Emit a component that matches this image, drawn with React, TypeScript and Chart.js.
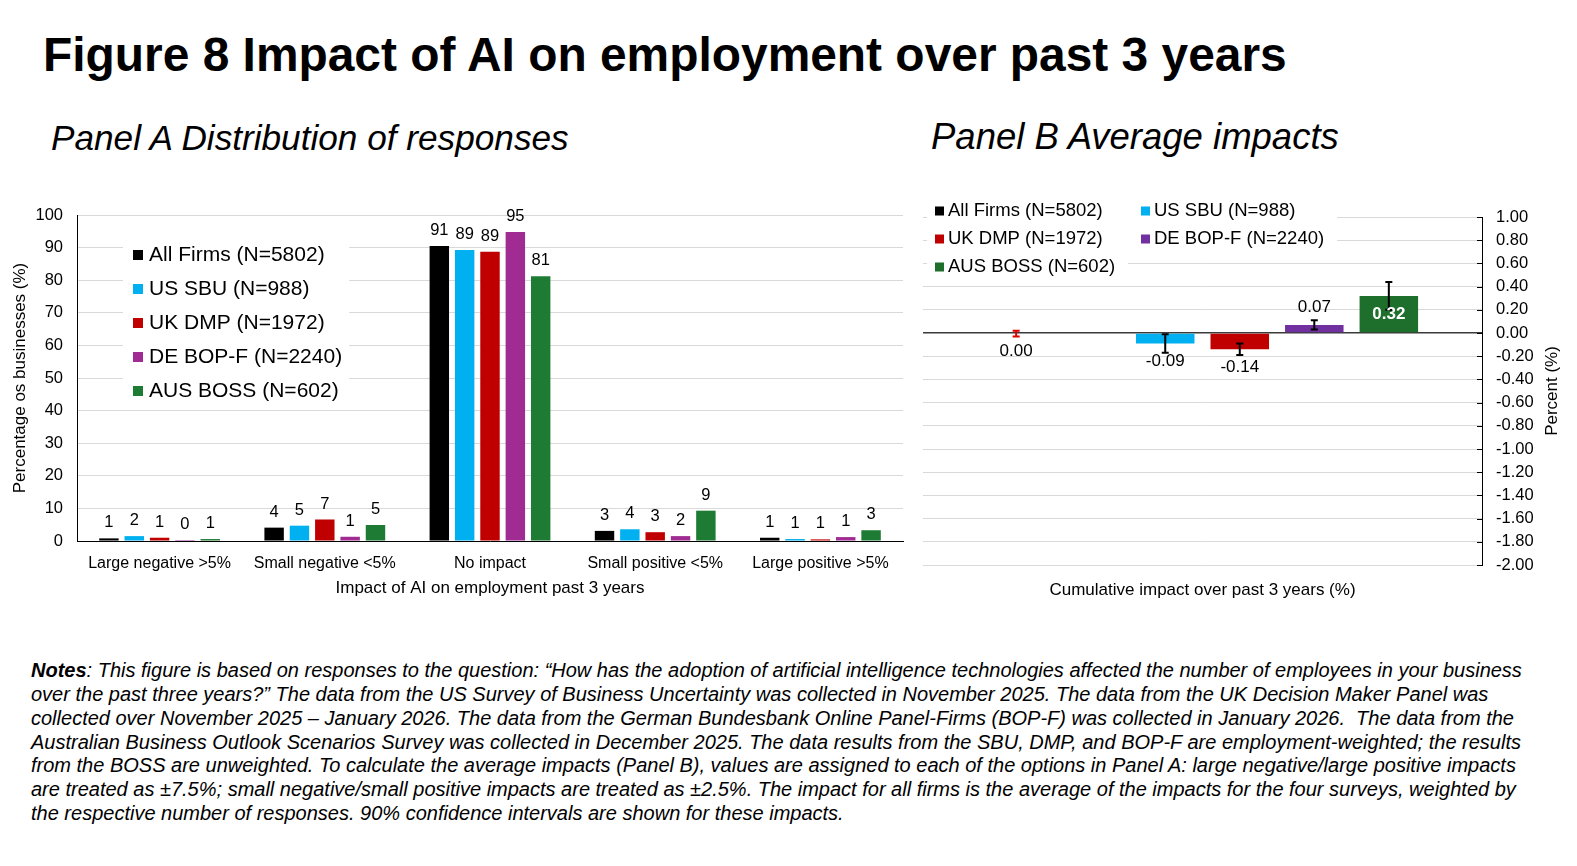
import React, { useEffect, useRef } from 'react';
import { Chart, registerables } from 'chart.js';

Chart.register(...registerables);

const FONT = "'Liberation Sans', Arial, sans-serif";
Chart.defaults.font.family = FONT;
Chart.defaults.color = '#000';

// Panel A: distribution of responses (% of businesses)
const categories = ['Large negative >5%', 'Small negative <5%', 'No impact', 'Small positive <5%', 'Large positive >5%'];
const seriesNames = ['All Firms (N=5802)', 'US SBU (N=988)', 'UK DMP (N=1972)', 'DE BOP-F (N=2240)', 'AUS BOSS (N=602)'];
const allFirms = [0.8, 4.1, 90.5, 3.1, 1.0];
const usSbu = [1.5, 4.7, 89.3, 3.6, 0.6];
const ukDmp = [1.0, 6.6, 88.7, 2.7, 0.5];
const deBopf = [0.3, 1.3, 94.8, 1.5, 1.2];
const ausBoss = [0.6, 4.9, 81.2, 9.3, 3.3];

// Panel B: average impact (%) with 90% confidence intervals
const avgImpact = [0.0, -0.09, -0.14, 0.07, 0.32];
const ciLow = [-0.03, -0.17, -0.19, 0.03, 0.2];
const ciHigh = [0.02, -0.01, -0.09, 0.11, 0.44];

const colorsA = ['#000000', '#00b0f0', '#c00000', '#a02b93', '#1e7b34'];
const colorsB = ['#000000', '#00b0f0', '#c00000', '#7030a0', '#1e6e2c'];

const isZero = (v: number) => Math.abs(v) < 1e-9;

// error bars + value labels
const barDecor = {
  id: 'barDecor',
  afterDatasetsDraw(chart: any, _args: any, opts: any) {
    const { ctx } = chart;
    const yScale = chart.scales.y;
    ctx.save();
    chart.data.datasets.forEach((ds: any, di: number) => {
      const meta = chart.getDatasetMeta(di);
      meta.data.forEach((bar: any, i: number) => {
        if (ds.data[i] == null || !ds.errLow) return;
        const yLo = yScale.getPixelForValue(ds.errLow[i]);
        const yHi = yScale.getPixelForValue(ds.errHigh[i]);
        ctx.strokeStyle = ds.errColor || '#000';
        ctx.lineWidth = 2;
        ctx.beginPath();
        ctx.moveTo(bar.x, yLo);
        ctx.lineTo(bar.x, yHi);
        ctx.moveTo(bar.x - 3.5, yLo);
        ctx.lineTo(bar.x + 3.5, yLo);
        ctx.moveTo(bar.x - 3.5, yHi);
        ctx.lineTo(bar.x + 3.5, yHi);
        ctx.stroke();
      });
    });
    ctx.textAlign = 'center';
    ctx.textBaseline = 'middle';
    chart.data.datasets.forEach((ds: any, di: number) => {
      const meta = chart.getDatasetMeta(di);
      meta.data.forEach((bar: any, i: number) => {
        const v = ds.data[i];
        if (v == null) return;
        const text = opts.format(v);
        let y;
        if (ds.labelInside) {
          ctx.font = `bold ${opts.size}px ${FONT}`;
          ctx.fillStyle = '#fff';
          y = (bar.y + bar.base) / 2;
        } else {
          ctx.font = `${opts.size}px ${FONT}`;
          ctx.fillStyle = '#000';
          y = v > 0 ? bar.y - opts.offset : bar.y + opts.offset;
        }
        ctx.fillText(text, bar.x, y);
      });
    });
    ctx.restore();
  },
};

// legend drawn inside the plot, on a white patch
const boxLegend = {
  id: 'boxLegend',
  beforeDatasetsDraw(chart: any, _args: any, opts: any) {
    if (!opts || !opts.display) return;
    const { ctx } = chart;
    const items = chart.data.datasets.filter((d: any) => d.label);
    ctx.save();
    ctx.font = `${opts.size}px ${FONT}`;
    ctx.textBaseline = 'middle';
    const rows = Math.ceil(items.length / opts.cols);
    const rights: number[] = [];
    items.forEach((d: any, k: number) => {
      const col = k % opts.cols;
      const row = Math.floor(k / opts.cols);
      const r = opts.x + col * opts.colW + opts.textDx + ctx.measureText(d.label).width + opts.padR;
      rights[row] = Math.max(rights[row] || 0, r);
    });
    let fullMax = 0;
    for (let r = 0; r < rows; r++) {
      const full = items.length - r * opts.cols >= opts.cols;
      if (full) fullMax = Math.max(fullMax, rights[r]);
    }
    ctx.fillStyle = '#fff';
    for (let r = 0; r < rows; r++) {
      const full = items.length - r * opts.cols >= opts.cols;
      const right = full ? fullMax : rights[r];
      const cy = opts.y + r * opts.rowH;
      ctx.fillRect(opts.x - opts.padL, cy - opts.rowH / 2, right - opts.x + opts.padL, opts.rowH);
    }
    items.forEach((d: any, k: number) => {
      const col = k % opts.cols;
      const row = Math.floor(k / opts.cols);
      const x = opts.x + col * opts.colW;
      const cy = opts.y + row * opts.rowH;
      ctx.fillStyle = d.backgroundColor;
      ctx.fillRect(x, cy - opts.box / 2, opts.box, opts.box);
      ctx.fillStyle = '#000';
      ctx.fillText(d.label, x + opts.textDx, cy);
    });
    ctx.restore();
  },
};

// short tick marks inside the right-hand axis, and its title read bottom-to-top
const rightAxisExtras = {
  id: 'rightAxisExtras',
  afterDraw(chart: any, _args: any, opts: any) {
    if (!opts || !opts.display) return;
    const { ctx, chartArea } = chart;
    const scale = chart.scales.y;
    ctx.save();
    ctx.strokeStyle = '#000';
    ctx.lineWidth = 1;
    ctx.beginPath();
    scale.ticks.forEach((t: any) => {
      const y = Math.round(scale.getPixelForValue(t.value)) + 0.5;
      ctx.moveTo(chartArea.right - 5, y);
      ctx.lineTo(chartArea.right, y);
    });
    ctx.stroke();
    ctx.translate(opts.titleX, (chartArea.top + chartArea.bottom) / 2);
    ctx.rotate(-Math.PI / 2);
    ctx.font = `${opts.size}px ${FONT}`;
    ctx.fillStyle = '#000';
    ctx.textAlign = 'center';
    ctx.textBaseline = 'middle';
    ctx.fillText(opts.title, 0, 0);
    ctx.restore();
  },
};

Chart.register(barDecor, boxLegend, rightAxisExtras);

const PanelA: React.FC = () => {
  const ref = useRef<HTMLCanvasElement | null>(null);
  useEffect(() => {
    if (!ref.current) return;
    const values = [allFirms, usSbu, ukDmp, deBopf, ausBoss];
    const chart = new Chart(ref.current, {
      type: 'bar',
      data: {
        labels: categories,
        datasets: seriesNames.map((name, k) => ({
          label: name,
          data: values[k],
          backgroundColor: colorsA[k],
          categoryPercentage: 0.767,
          barPercentage: 0.767,
        })),
      },
      options: {
        responsive: true,
        maintainAspectRatio: false,
        animation: false,
        layout: { padding: { left: 6, right: 9, top: 25, bottom: 0 } },
        plugins: {
          legend: { display: false },
          tooltip: { enabled: false },
          barDecor: { format: (v: number) => String(Math.round(v)), size: 16.5, offset: 15.5 },
          boxLegend: { display: true, x: 133, y: 65, rowH: 34, cols: 1, colW: 0, size: 21, box: 10, textDx: 16, padL: 10, padR: 7 },
        } as any,
        scales: {
          x: {
            grid: { display: false, drawTicks: false },
            border: { color: '#000', width: 1 },
            ticks: { font: { size: 16 }, padding: 13, maxRotation: 0, autoSkip: false },
            title: { display: true, text: 'Impact of AI on employment past 3 years', font: { size: 17 }, padding: { top: 0, bottom: 4 } },
            afterFit: (s: any) => { s.height = 62; },
          },
          y: {
            min: 0,
            max: 100,
            ticks: { stepSize: 10, font: { size: 16.5 }, padding: 14 },
            grid: { color: '#d9d9d9', drawTicks: false },
            border: { color: '#000', width: 1 },
            title: { display: true, text: 'Percentage os businesses (%)', font: { size: 17 } },
            afterFit: (s: any) => { s.width = 71; },
          },
        },
      },
    });
    return () => chart.destroy();
  }, []);
  return <canvas ref={ref} />;
};

const PanelB: React.FC = () => {
  const ref = useRef<HTMLCanvasElement | null>(null);
  useEffect(() => {
    if (!ref.current) return;
    const mk = (k: number) => ({
      label: seriesNames[k],
      data: [avgImpact[k]],
      backgroundColor: colorsB[k],
      errLow: [ciLow[k]],
      errHigh: [ciHigh[k]],
      errColor: k === 0 ? '#e00000' : '#000',
      labelInside: k === 4,
      categoryPercentage: 0.8,
      barPercentage: 0.785,
    });
    const gap = { label: '', data: [null], backgroundColor: '#fff', categoryPercentage: 0.8, barPercentage: 0.785 };
    const chart = new Chart(ref.current, {
      type: 'bar',
      data: {
        labels: [''],
        datasets: [mk(0), gap, mk(1), mk(2), mk(3), mk(4)] as any,
      },
      options: {
        responsive: true,
        maintainAspectRatio: false,
        animation: false,
        layout: { padding: { left: 11, right: 11, top: 27, bottom: 0 } },
        plugins: {
          legend: { display: false },
          tooltip: { enabled: false },
          barDecor: { format: (v: number) => (isZero(v) ? '0.00' : v.toFixed(2)), size: 17, offset: 18 },
          boxLegend: { display: true, x: 23, y: 21, rowH: 28, cols: 2, colW: 206, size: 18.5, box: 9, textDx: 13, padL: 8, padR: 13 },
          rightAxisExtras: { display: true, title: 'Percent (%)', titleX: 640, size: 17 },
        } as any,
        scales: {
          x: {
            grid: { display: false, drawTicks: false },
            border: { display: false },
            ticks: { display: false },
            title: { display: true, text: 'Cumulative impact over past 3 years (%)', font: { size: 17 } },
            afterFit: (s: any) => { s.height = 40; },
          },
          y: {
            position: 'right',
            min: -2,
            max: 1,
            ticks: {
              stepSize: 0.2,
              font: { size: 16.5 },
              padding: 14,
              callback: (v: any) => (isZero(Number(v)) ? '0.00' : Number(v).toFixed(2)),
            },
            grid: {
              drawTicks: false,
              color: (c: any) => (c.tick && isZero(c.tick.value) ? '#3a3a3a' : '#d9d9d9'),
              lineWidth: (c: any) => (c.tick && isZero(c.tick.value) ? 1.6 : 1),
            },
            border: { color: '#000', width: 1 },
            afterFit: (s: any) => { s.width = 84; },
          },
        },
      },
    });
    return () => chart.destroy();
  }, []);
  return <canvas ref={ref} />;
};

const notesLines = [
  'This figure is based on responses to the question: \u201cHow has the adoption of artificial intelligence technologies affected the number of employees in your business',
  'over the past three years?\u201d The data from the US Survey of Business Uncertainty was collected in November 2025. The data from the UK Decision Maker Panel was',
  'collected over November 2025 \u2013 January 2026. The data from the German Bundesbank Online Panel-Firms (BOP-F) was collected in January 2026.  The data from the',
  'Australian Business Outlook Scenarios Survey was collected in December 2025. The data results from the SBU, DMP, and BOP-F are employment-weighted; the results',
  'from the BOSS are unweighted. To calculate the average impacts (Panel B), values are assigned to each of the options in Panel A: large negative/large positive impacts',
  'are treated as \u00b17.5%; small negative/small positive impacts are treated as \u00b12.5%. The impact for all firms is the average of the impacts for the four surveys, weighted by',
  'the respective number of responses. 90% confidence intervals are shown for these impacts.',
];

const App: React.FC = () => {
  return (
    <div style={{ position: 'absolute', left: 0, top: 0, width: 1577, height: 866, background: '#fff', overflow: 'hidden' }}>
      <div style={{ position: 'absolute', left: 43, top: 31, fontFamily: FONT, fontWeight: 700, fontSize: 47.9, lineHeight: 1, whiteSpace: 'nowrap' }}>
        Figure 8 Impact of AI on employment over past 3 years
      </div>
      <div style={{ position: 'absolute', left: 51, top: 120, fontFamily: FONT, fontStyle: 'italic', fontSize: 35.2, lineHeight: 1, whiteSpace: 'nowrap' }}>
        Panel A Distribution of responses
      </div>
      <div style={{ position: 'absolute', left: 931, top: 119, fontFamily: FONT, fontStyle: 'italic', fontSize: 36.5, lineHeight: 1, whiteSpace: 'nowrap' }}>
        Panel B Average impacts
      </div>
      <div style={{ position: 'absolute', left: 0, top: 190, width: 912, height: 413 }}>
        <PanelA />
      </div>
      <div style={{ position: 'absolute', left: 912, top: 190, width: 665, height: 415 }}>
        <PanelB />
      </div>
      <div style={{ position: 'absolute', left: 31, top: 659, fontFamily: "'Liberation Sans Narrow', 'Arial Narrow', " + FONT, fontStyle: 'italic', fontSize: 20, lineHeight: '23.85px', whiteSpace: 'pre' }}>
        {notesLines.map((line, i) => (
          <div key={i}>
            {i === 0 ? (
              <>
                <b>Notes</b>: {line}
              </>
            ) : (
              line
            )}
          </div>
        ))}
      </div>
    </div>
  );
};

export default App;
